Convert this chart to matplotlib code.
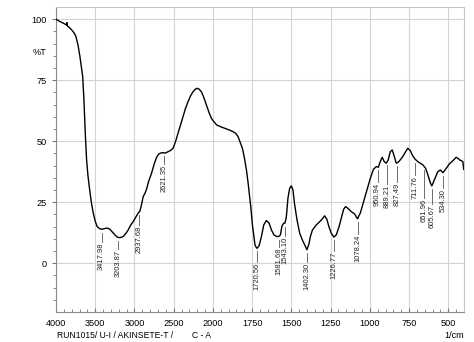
import numpy as np
import matplotlib
matplotlib.use("Agg")
import matplotlib.pyplot as plt
from matplotlib.ticker import FixedLocator, NullFormatter

# FTIR trace, wavenumber (1/cm) vs %T
wavenumber = [
    4000, 3960, 3920, 3880, 3864, 3861, 3857, 3830, 3800, 3770, 3746, 3720,
    3695, 3675, 3660, 3644, 3627, 3610, 3593, 3576, 3550, 3525, 3500, 3475,
    3445, 3419, 3390, 3355, 3330, 3313, 3280, 3249, 3220, 3195, 3170, 3144,
    3110, 3080, 3050, 3017, 2985, 2953, 2931, 2910, 2889, 2868, 2846, 2820,
    2782, 2750, 2719, 2690, 2660, 2635, 2610, 2571, 2540, 2508, 2475, 2444,
    2410, 2381, 2350, 2317, 2285, 2253, 2225, 2200, 2175, 2147, 2115, 2084,
    2050, 2020, 2000, 1977, 1950, 1924, 1900, 1871, 1855, 1840, 1829, 1815,
    1808, 1797, 1786, 1776, 1765, 1759, 1748, 1744, 1733, 1729, 1719, 1706,
    1691, 1676, 1659, 1642, 1627, 1611, 1595, 1582, 1570, 1560, 1549, 1541,
    1532, 1522, 1511, 1500, 1490, 1479, 1464, 1447, 1430, 1415, 1401, 1388,
    1379, 1366, 1341, 1309, 1288, 1274, 1261, 1246, 1229, 1214, 1197, 1182,
    1167, 1155, 1140, 1118, 1097, 1083, 1078, 1070, 1061, 1040, 1019, 997,
    977, 959, 946, 934, 921, 908, 896, 883, 870, 857, 845, 832,
    819, 807, 790, 772, 758, 742, 726, 711, 694, 679, 662, 645,
    630, 615, 605, 594, 581, 567, 551, 534, 513, 493, 471, 450,
    439, 428, 416, 407, 402,
]
transmittance = [
    100.0, 99.2, 98.6, 97.9, 97.7, 98.6, 97.3, 96.6, 95.6, 94.4, 92.9, 89.5,
    84.7, 80.0, 76.5, 66.9, 53.3, 42.3, 36.0, 31.4, 25.0, 20.5, 17.2, 15.0,
    14.2, 13.9, 14.1, 14.4, 14.2, 13.9, 12.7, 11.6, 10.7, 10.5, 10.6, 10.9,
    12.2, 13.6, 15.5, 17.0, 18.8, 20.5, 21.3, 24.0, 27.3, 28.5, 30.3, 33.5,
    36.9, 40.5, 43.3, 44.8, 45.2, 45.3, 45.1, 45.7, 46.2, 47.1, 50.0, 53.3,
    56.8, 60.1, 63.4, 66.2, 68.6, 70.3, 71.3, 71.7, 71.3, 70.3, 67.8, 64.9,
    61.8, 59.4, 58.5, 56.7, 55.9, 55.3, 54.7, 53.9, 53.2, 51.9, 50.0, 47.6,
    46.0, 42.3, 38.0, 33.0, 26.5, 23.2, 15.5, 13.6, 8.0, 7.0, 6.1, 7.1,
    10.9, 15.7, 17.5, 16.4, 13.6, 11.6, 11.0, 10.9, 11.6, 15.3, 16.4, 16.4,
    19.1, 26.6, 30.7, 31.7, 30.0, 23.9, 17.7, 12.3, 9.5, 7.5, 5.5, 7.9,
    10.9, 13.6, 15.7, 17.7, 19.4, 18.0, 15.0, 12.3, 10.7, 11.6, 14.8, 18.4,
    22.1, 23.2, 22.5, 21.1, 20.2, 18.6, 18.2, 19.4, 20.5, 25.2, 30.0, 34.8,
    38.5, 39.6, 39.3, 41.6, 43.4, 41.6, 41.0, 42.3, 45.7, 46.4, 43.9, 41.0,
    41.4, 42.3, 43.7, 45.7, 47.1, 46.1, 43.9, 42.6, 41.6, 41.0, 40.3, 38.9,
    36.2, 33.0, 31.7, 33.4, 35.5, 37.5, 38.2, 37.1, 38.9, 40.7, 42.0, 43.4,
    43.0, 42.3, 42.0, 41.6, 38.5,
]

# picked peaks and the %T level where each label starts
peaks = [3417.98, 3203.87, 2937.68, 2621.35, 1720.56, 1581.68, 1543.10,
         1402.30, 1226.77, 1078.24, 950.94, 889.21, 827.49, 711.76,
         651.96, 605.67, 534.30]
peak_label_y = [8.3, 5.4, 15.3, 40.3, 0.1, 6.3, 10.8, 0.1, 4.6, 11.6,
                32.9, 32.1, 32.9, 35.8, 26.4, 23.9, 30.5]

x_major = [4000, 3500, 3000, 2500, 2000, 1750, 1500, 1250, 1000, 750, 500]
y_major = [0, 25, 50, 75, 100]


# instrument style axis: 4000-2000 compressed to half scale
def fwd(x):
    x = np.asarray(x, dtype=float)
    return np.where(x > 2000, 2000 + (x - 2000) / 2, x)


def inv(t):
    t = np.asarray(t, dtype=float)
    return np.where(t > 2000, 2000 + (t - 2000) * 2, t)


plt.rcParams['font.family'] = ['Liberation Sans', 'DejaVu Sans']

fig = plt.figure(figsize=(4.74, 3.42), dpi=100)
ax = fig.add_axes([56 / 474, 1 - 312 / 342, 408 / 474, 305 / 342])
ax.set_xscale('function', functions=(fwd, inv))
ax.set_xlim(4000, 400)
ax.set_ylim(-20, 105)

ax.plot(wavenumber, transmittance, color='black', lw=1.0, zorder=3)

wn_arr = np.array(wavenumber)[::-1]
t_arr = np.array(transmittance)[::-1]
for p, ly in zip(peaks, peak_label_y):
    top = np.interp(p, wn_arr, t_arr) - 1.4
    ax.plot([p, p], [top, ly + 0.3], color='#555555', lw=0.6, zorder=2)
    ax.text(p, ly, f"{p:.2f}", rotation=90, ha='center', va='top',
            fontsize=5.4, color='#222222')

ax.xaxis.set_major_locator(FixedLocator(x_major))
minor_x = list(range(3900, 2000, -100)) + list(range(1950, 400, -50))
ax.xaxis.set_minor_locator(FixedLocator(minor_x))
ax.xaxis.set_minor_formatter(NullFormatter())
ax.yaxis.set_major_locator(FixedLocator(y_major))
ax.yaxis.set_minor_locator(FixedLocator(list(range(-15, 105, 5))))

ax.grid(True, which='major', color='#d4d4d4', lw=0.8)
ax.tick_params(axis='x', which='both', direction='in', color='#777777',
               labelsize=6.6, pad=5)
ax.tick_params(axis='x', which='major', length=3)
ax.tick_params(axis='x', which='minor', length=2.5)
ax.tick_params(axis='y', which='both', direction='out', color='#777777',
               labelsize=6.6, pad=3.5)
ax.tick_params(axis='y', which='major', length=3)
ax.tick_params(axis='y', which='minor', length=2)

for side in ['top', 'right']:
    ax.spines[side].set_color('#c4c4c4')
for side in ['left', 'bottom']:
    ax.spines[side].set_color('#8a8a8a')
for s in ax.spines.values():
    s.set_linewidth(0.8)

ax.text(-0.024, 86.5, '%T', transform=ax.get_yaxis_transform(),
        ha='right', va='center', fontsize=6.6)
fig.text(57 / 474, 1 - 336 / 342, 'RUN1015/ U-I / AKINSETE-T /',
         ha='left', va='center', fontsize=6.2)
fig.text(192 / 474, 1 - 336 / 342, 'C - A', ha='left', va='center', fontsize=6.2)
fig.text(464 / 474, 1 - 336 / 342, '1/cm', ha='right', va='center', fontsize=6.6)

fig.savefig('out.png', dpi=100)
